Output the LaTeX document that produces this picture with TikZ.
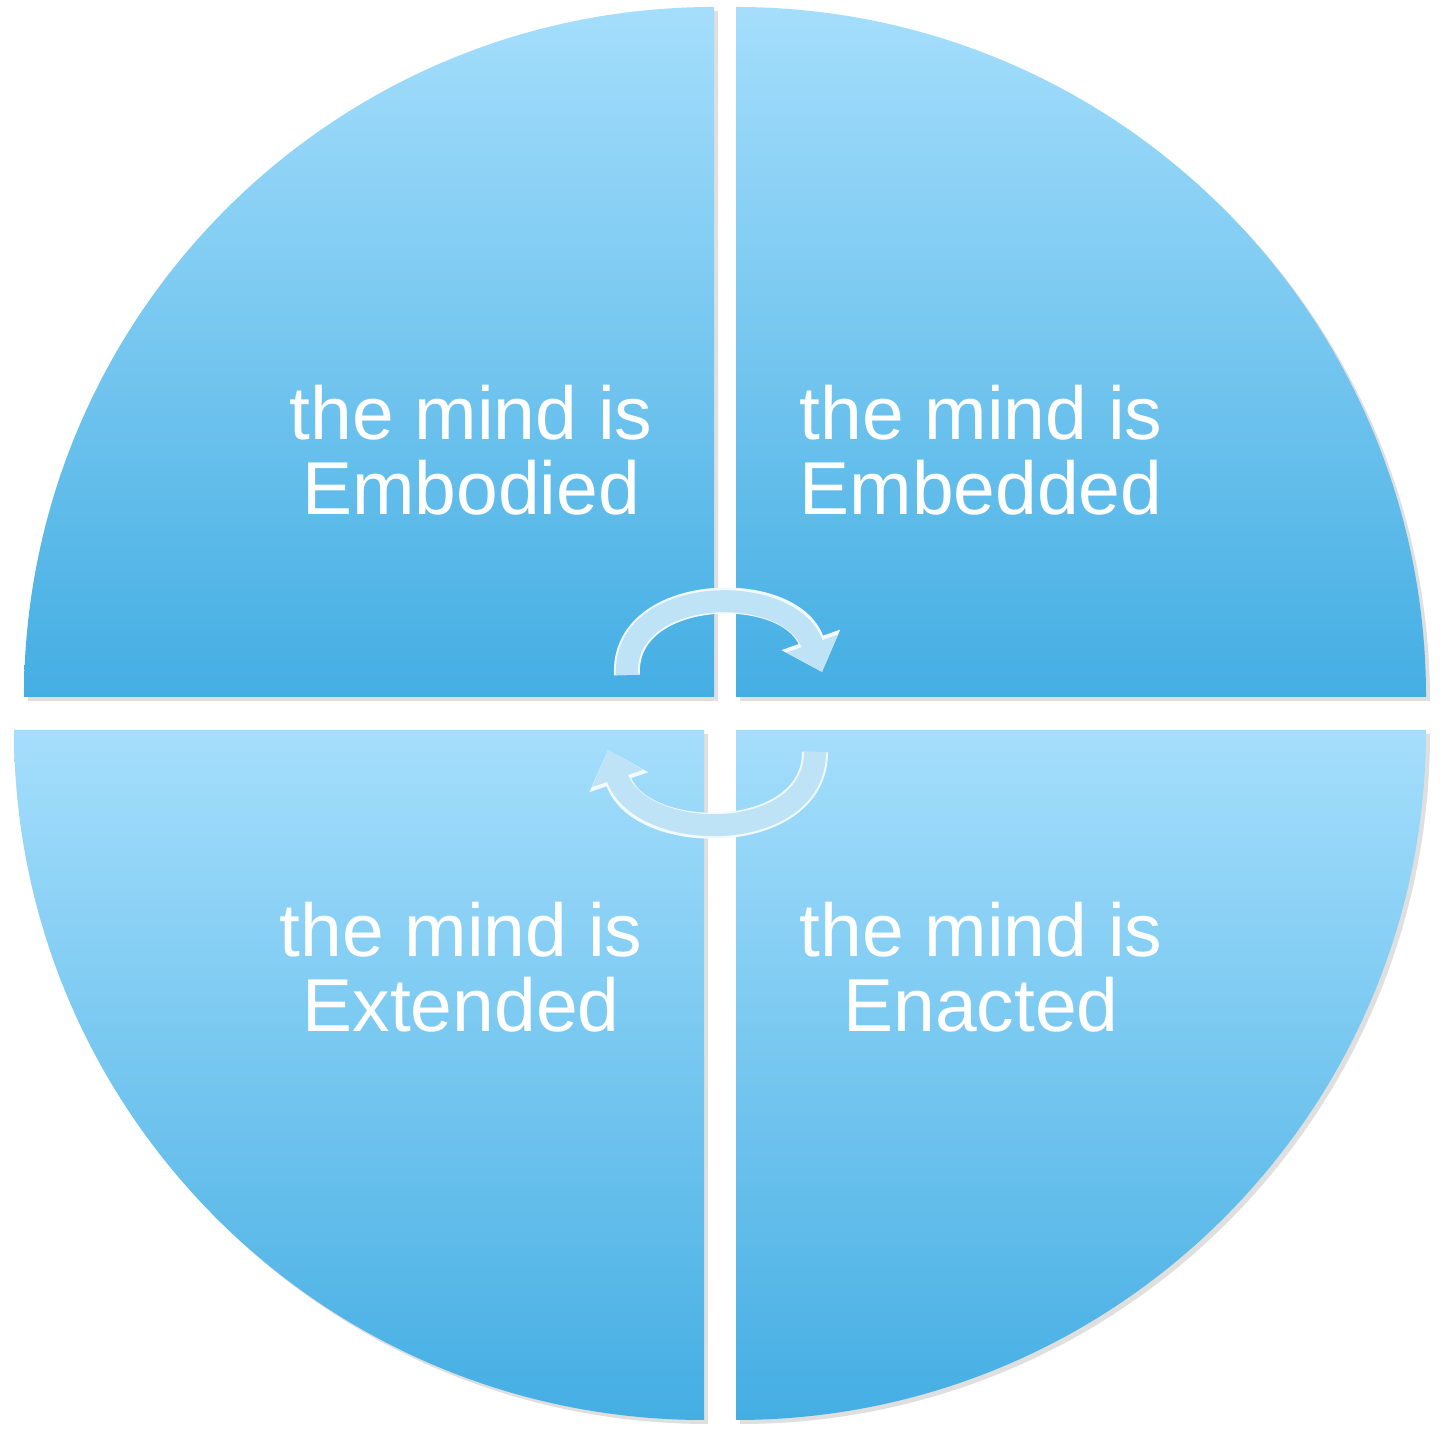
\documentclass[tikz,border=0pt]{standalone}
\usepackage{fontspec}
\setmainfont{Liberation Sans}
\usetikzlibrary{arrows.meta}
\definecolor{qtop}{HTML}{A5DEFC}
\definecolor{qbot}{HTML}{44AEE3}
\definecolor{arr}{HTML}{BEE2F6}
\tikzset{
  quad/.style={top color=qtop,bottom color=qbot,draw=none},
  shad/.style={fill=black!25,draw=none,opacity=0.5},
  lbl/.style={text=white,align=center,font=\fontsize{37.5pt}{37.5pt}\selectfont},
  cyc/.style={line width=11pt,arr,-{Triangle[width=26pt,length=15pt]}},
  cycw/.style={line width=13pt,white!85!qtop,-{Triangle[width=30pt,length=17pt]}}
}
\begin{document}
\begin{tikzpicture}[x=0.5pt,y=0.5pt]
\useasboundingbox (0,0) rectangle (1446,1450);
% shadows
\fill[shad] (718,749) -- (28,749) arc[start angle=180,end angle=90,radius=690] -- cycle;
\fill[shad] (740,749) -- (740,1439) arc[start angle=90,end angle=0,radius=690] -- cycle;
\fill[shad] (708,716) -- (18,716) arc[start angle=180,end angle=270,radius=690] -- cycle;
\fill[shad] (740,716) -- (1430,716) arc[start angle=0,end angle=-90,radius=690] -- cycle;
% quadrants
\path[quad] (714,753) -- (24,753) arc[start angle=180,end angle=90,radius=690] -- cycle;
\path[quad] (736,753) -- (736,1443) arc[start angle=90,end angle=0,radius=690] -- cycle;
\path[quad] (704,720) -- (14,720) arc[start angle=180,end angle=270,radius=690] -- cycle;
\path[quad] (736,720) -- (1426,720) arc[start angle=0,end angle=-90,radius=690] -- cycle;
% labels
\node[lbl] (tl) at (471,1000) {the mind is\\Embodied};
\node[lbl] (tr) at (981,1000) {the mind is\\Embedded};
\node[lbl] (bl) at (461,483) {the mind is\\Extended};
\node[lbl] (br) at (981,483) {the mind is\\Enacted};
% cycle arrows
\coordinate (a1) at (627,775);
\coordinate (a2) at (822,778);
\coordinate (b1) at (815,698);
\coordinate (b2) at (608,700);
\draw[cycw] (a1) .. controls (622,865) and (790,870) .. (a2);
\draw[cyc] (a1) .. controls (622,865) and (790,870) .. (a2);
\draw[cycw] (b1) .. controls (815,605) and (640,605) .. (b2);
\draw[cyc] (b1) .. controls (815,605) and (640,605) .. (b2);
\end{tikzpicture}
\end{document}
